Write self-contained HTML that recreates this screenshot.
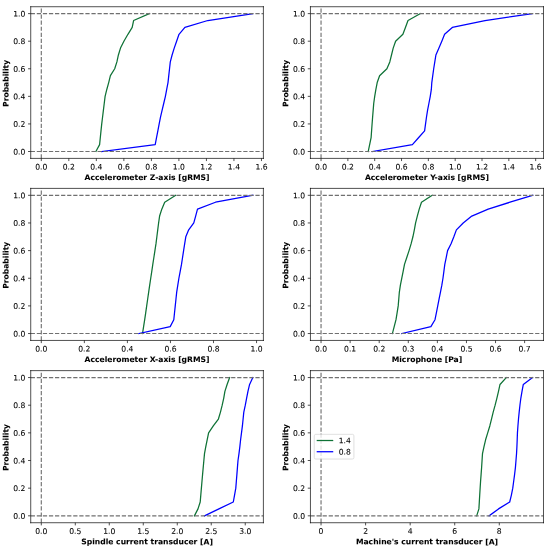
<!DOCTYPE html>
<html><head><meta charset="utf-8"><title>CDF plots</title>
<style>
html,body{margin:0;padding:0;background:#fff;width:550px;height:550px;overflow:hidden}
svg{display:block}
text{font-family:"DejaVu Sans",sans-serif;font-size:10px;fill:#000;stroke:#000;stroke-width:0.1px;}
.tm,.tb{text-anchor:middle} .te{text-anchor:end} .ts{text-anchor:start} .tb{font-weight:700}
.tk{stroke:#000;stroke-width:0.9}
.sp{fill:none;stroke:#000;stroke-width:0.9;stroke-linejoin:miter;stroke-linecap:square}
.dl{fill:none;stroke-dasharray:5.55,2.4;stroke:#707070;stroke-width:1.5}
.cg,.cb{fill:none;stroke-width:1.65;stroke-linecap:square}
.cg{stroke:#0f7236} .cb{stroke:#0000ff}
</style>
</head><body>
<svg width="550" height="550" viewBox="0 0 720 720" version="1.1">
 <defs>
  <style type="text/css">*{stroke-linejoin: round; stroke-linecap: butt}</style>
 </defs>
 <g id="figure_1">
  <g id="patch_1">
   <path d="M 0 720 L 720 720 L 720 0 L 0 0 z
" style="fill: #ffffff"/>
  </g>
  <g id="axes_1">
   <g id="patch_2">
    <path d="M 40.215 207.36 L 344.814 207.36 L 344.814 8.810 L 40.215 8.810 z
" style="fill: #ffffff"/>
   </g>
   <g id="matplotlib.axis_1">
    <g id="xtick_1">
     <g id="line2d_1">
      <g>
       <path d="M 54.061 207.360 L 54.061 210.860" class="tk"/>
      </g>
     </g>
     <g id="text_1">
      <text class="tm" x="54.060" y="221.958" transform="rotate(0.05 54.060 221.958)">0.0</text>
     </g>
    </g>
    <g id="xtick_2">
     <g id="line2d_2">
      <g>
       <path d="M 90.088 207.360 L 90.088 210.860" class="tk"/>
      </g>
     </g>
     <g id="text_2">
      <text class="tm" x="90.088" y="221.958" transform="rotate(0.05 90.088 221.958)">0.2</text>
     </g>
    </g>
    <g id="xtick_3">
     <g id="line2d_3">
      <g>
       <path d="M 126.116 207.360 L 126.116 210.860" class="tk"/>
      </g>
     </g>
     <g id="text_3">
      <text class="tm" x="126.115" y="221.958" transform="rotate(0.05 126.115 221.958)">0.4</text>
     </g>
    </g>
    <g id="xtick_4">
     <g id="line2d_4">
      <g>
       <path d="M 162.144 207.360 L 162.144 210.860" class="tk"/>
      </g>
     </g>
     <g id="text_4">
      <text class="tm" x="162.143" y="221.958" transform="rotate(0.05 162.143 221.958)">0.6</text>
     </g>
    </g>
    <g id="xtick_5">
     <g id="line2d_5">
      <g>
       <path d="M 198.171 207.360 L 198.171 210.860" class="tk"/>
      </g>
     </g>
     <g id="text_5">
      <text class="tm" x="198.171" y="221.958" transform="rotate(0.05 198.171 221.958)">0.8</text>
     </g>
    </g>
    <g id="xtick_6">
     <g id="line2d_6">
      <g>
       <path d="M 234.199 207.360 L 234.199 210.860" class="tk"/>
      </g>
     </g>
     <g id="text_6">
      <text class="tm" x="234.198" y="221.958" transform="rotate(0.05 234.198 221.958)">1.0</text>
     </g>
    </g>
    <g id="xtick_7">
     <g id="line2d_7">
      <g>
       <path d="M 270.227 207.360 L 270.227 210.860" class="tk"/>
      </g>
     </g>
     <g id="text_7">
      <text class="tm" x="270.226" y="221.958" transform="rotate(0.05 270.226 221.958)">1.2</text>
     </g>
    </g>
    <g id="xtick_8">
     <g id="line2d_8">
      <g>
       <path d="M 306.254 207.360 L 306.254 210.860" class="tk"/>
      </g>
     </g>
     <g id="text_8">
      <text class="tm" x="306.254" y="221.958" transform="rotate(0.05 306.254 221.958)">1.4</text>
     </g>
    </g>
    <g id="xtick_9">
     <g id="line2d_9">
      <g>
       <path d="M 342.282 207.360 L 342.282 210.860" class="tk"/>
      </g>
     </g>
     <g id="text_9">
      <text class="tm" x="342.281" y="221.958" transform="rotate(0.05 342.281 221.958)">1.6</text>
     </g>
    </g>
    <g id="text_10">
     <text class="tb" x="192.514" y="235.636" transform="rotate(0.05 192.514 235.636)">Accelerometer Z-axis [gRMS]</text>
    </g>
   </g>
   <g id="matplotlib.axis_2">
    <g id="ytick_1">
     <g id="line2d_10">
      <g>
       <path d="M 40.215 198.335 L 36.715 198.335" class="tk"/>
      </g>
     </g>
     <g id="text_11">
      <text class="te" x="33.215" y="202.134" transform="rotate(0.05 33.215 202.134)">0.0</text>
     </g>
    </g>
    <g id="ytick_2">
     <g id="line2d_11">
      <g>
       <path d="M 40.215 162.235 L 36.715 162.235" class="tk"/>
      </g>
     </g>
     <g id="text_12">
      <text class="te" x="33.215" y="166.034" transform="rotate(0.05 33.215 166.034)">0.2</text>
     </g>
    </g>
    <g id="ytick_3">
     <g id="line2d_12">
      <g>
       <path d="M 40.215 126.135 L 36.715 126.135" class="tk"/>
      </g>
     </g>
     <g id="text_13">
      <text class="te" x="33.215" y="129.934" transform="rotate(0.05 33.215 129.934)">0.4</text>
     </g>
    </g>
    <g id="ytick_4">
     <g id="line2d_13">
      <g>
       <path d="M 40.215 90.035 L 36.715 90.035" class="tk"/>
      </g>
     </g>
     <g id="text_14">
      <text class="te" x="33.215" y="93.834" transform="rotate(0.05 33.215 93.834)">0.6</text>
     </g>
    </g>
    <g id="ytick_5">
     <g id="line2d_14">
      <g>
       <path d="M 40.215 53.935 L 36.715 53.935" class="tk"/>
      </g>
     </g>
     <g id="text_15">
      <text class="te" x="33.215" y="57.734" transform="rotate(0.05 33.215 57.734)">0.8</text>
     </g>
    </g>
    <g id="ytick_6">
     <g id="line2d_15">
      <g>
       <path d="M 40.215 17.835 L 36.715 17.835" class="tk"/>
      </g>
     </g>
     <g id="text_16">
      <text class="te" x="33.215" y="21.634" transform="rotate(0.05 33.215 21.634)">1.0</text>
     </g>
    </g>
    <g id="text_17">
     <text class="tb" x="11.154" y="109.185" transform="rotate(-89.95 11.154 109.185)">Probability</text>
    </g>
   </g>
   <g id="line2d_16">
    <path d="M 125.541 198.335 L 130.385 189.310 L 131.297 180.285 L 132.208 171.260 L 133.172 162.235 L 134.275 153.210 L 135.379 144.185 L 136.482 135.160 L 137.585 126.135 L 139.810 117.110 L 142.291 108.085 L 144.523 99.060 L 150.152 90.035 L 153.032 81.010 L 154.996 71.985 L 157.745 62.960 L 162.210 53.935 L 167.473 44.910 L 173.061 35.885 L 174.894 26.860 L 195.447 17.835 
" clip-path="url(#p89217e5dc2)" class="cg"/>
   </g>
   <g id="line2d_17">
    <path d="M 132.872 198.335 L 203.170 189.310 L 204.905 180.285 L 206.64 171.260 L 208.374 162.235 L 210.109 153.210 L 212.247 144.185 L 214.385 135.160 L 216.523 126.135 L 218.225 117.110 L 219.927 108.085 L 220.930 99.060 L 221.934 90.035 L 222.938 81.010 L 225.288 71.985 L 228.069 62.960 L 231.198 53.935 L 234.327 44.910 L 242.050 35.885 L 272.029 26.860 L 330.545 17.835 
" clip-path="url(#p89217e5dc2)" class="cb"/>
   </g>
   <g id="line2d_18">
    <path d="M 40.215 198.335 L 344.814 198.335 
" clip-path="url(#p89217e5dc2)" class="dl"/>
   </g>
   <g id="line2d_19">
    <path d="M 40.215 17.835 L 344.814 17.835 
" clip-path="url(#p89217e5dc2)" class="dl"/>
   </g>
   <g id="line2d_20">
    <path d="M 54.060 207.36 L 54.060 8.810 
" clip-path="url(#p89217e5dc2)" class="dl"/>
   </g>
   <g id="patch_3">
    <path d="M 40.215 207.36 L 40.215 8.810 
" class="sp"/>
   </g>
   <g id="patch_4">
    <path d="M 344.814 207.36 L 344.814 8.810 
" class="sp"/>
   </g>
   <g id="patch_5">
    <path d="M 40.215 207.36 L 344.814 207.36 
" class="sp"/>
   </g>
   <g id="patch_6">
    <path d="M 40.215 8.810 L 344.814 8.810 
" class="sp"/>
   </g>
  </g>
  <g id="axes_2">
   <g id="patch_7">
    <path d="M 406.407 207.36 L 711.490 207.36 L 711.490 8.810 L 406.407 8.810 z
" style="fill: #ffffff"/>
   </g>
   <g id="matplotlib.axis_3">
    <g id="xtick_10">
     <g id="line2d_21">
      <g>
       <path d="M 420.275 207.360 L 420.275 210.860" class="tk"/>
      </g>
     </g>
     <g id="text_18">
      <text class="tm" x="420.274" y="221.958" transform="rotate(0.05 420.274 221.958)">0.0</text>
     </g>
    </g>
    <g id="xtick_11">
     <g id="line2d_22">
      <g>
       <path d="M 455.395 207.360 L 455.395 210.860" class="tk"/>
      </g>
     </g>
     <g id="text_19">
      <text class="tm" x="455.395" y="221.958" transform="rotate(0.05 455.395 221.958)">0.2</text>
     </g>
    </g>
    <g id="xtick_12">
     <g id="line2d_23">
      <g>
       <path d="M 490.516 207.360 L 490.516 210.860" class="tk"/>
      </g>
     </g>
     <g id="text_20">
      <text class="tm" x="490.516" y="221.958" transform="rotate(0.05 490.516 221.958)">0.4</text>
     </g>
    </g>
    <g id="xtick_13">
     <g id="line2d_24">
      <g>
       <path d="M 525.637 207.360 L 525.637 210.860" class="tk"/>
      </g>
     </g>
     <g id="text_21">
      <text class="tm" x="525.637" y="221.958" transform="rotate(0.05 525.637 221.958)">0.6</text>
     </g>
    </g>
    <g id="xtick_14">
     <g id="line2d_25">
      <g>
       <path d="M 560.758 207.360 L 560.758 210.860" class="tk"/>
      </g>
     </g>
     <g id="text_22">
      <text class="tm" x="560.757" y="221.958" transform="rotate(0.05 560.757 221.958)">0.8</text>
     </g>
    </g>
    <g id="xtick_15">
     <g id="line2d_26">
      <g>
       <path d="M 595.879 207.360 L 595.879 210.860" class="tk"/>
      </g>
     </g>
     <g id="text_23">
      <text class="tm" x="595.878" y="221.958" transform="rotate(0.05 595.878 221.958)">1.0</text>
     </g>
    </g>
    <g id="xtick_16">
     <g id="line2d_27">
      <g>
       <path d="M 630.999 207.360 L 630.999 210.860" class="tk"/>
      </g>
     </g>
     <g id="text_24">
      <text class="tm" x="630.999" y="221.958" transform="rotate(0.05 630.999 221.958)">1.2</text>
     </g>
    </g>
    <g id="xtick_17">
     <g id="line2d_28">
      <g>
       <path d="M 666.120 207.360 L 666.120 210.860" class="tk"/>
      </g>
     </g>
     <g id="text_25">
      <text class="tm" x="666.120" y="221.958" transform="rotate(0.05 666.120 221.958)">1.4</text>
     </g>
    </g>
    <g id="xtick_18">
     <g id="line2d_29">
      <g>
       <path d="M 701.241 207.360 L 701.241 210.860" class="tk"/>
      </g>
     </g>
     <g id="text_26">
      <text class="tm" x="701.240" y="221.958" transform="rotate(0.05 701.240 221.958)">1.6</text>
     </g>
    </g>
    <g id="text_27">
     <text class="tb" x="558.949" y="235.636" transform="rotate(0.05 558.949 235.636)">Accelerometer Y-axis [gRMS]</text>
    </g>
   </g>
   <g id="matplotlib.axis_4">
    <g id="ytick_7">
     <g id="line2d_30">
      <g>
       <path d="M 406.407 198.335 L 402.907 198.335" class="tk"/>
      </g>
     </g>
     <g id="text_28">
      <text class="te" x="399.407" y="202.134" transform="rotate(0.05 399.407 202.134)">0.0</text>
     </g>
    </g>
    <g id="ytick_8">
     <g id="line2d_31">
      <g>
       <path d="M 406.407 162.235 L 402.907 162.235" class="tk"/>
      </g>
     </g>
     <g id="text_29">
      <text class="te" x="399.407" y="166.034" transform="rotate(0.05 399.407 166.034)">0.2</text>
     </g>
    </g>
    <g id="ytick_9">
     <g id="line2d_32">
      <g>
       <path d="M 406.407 126.135 L 402.907 126.135" class="tk"/>
      </g>
     </g>
     <g id="text_30">
      <text class="te" x="399.407" y="129.934" transform="rotate(0.05 399.407 129.934)">0.4</text>
     </g>
    </g>
    <g id="ytick_10">
     <g id="line2d_33">
      <g>
       <path d="M 406.407 90.035 L 402.907 90.035" class="tk"/>
      </g>
     </g>
     <g id="text_31">
      <text class="te" x="399.407" y="93.834" transform="rotate(0.05 399.407 93.834)">0.6</text>
     </g>
    </g>
    <g id="ytick_11">
     <g id="line2d_34">
      <g>
       <path d="M 406.407 53.935 L 402.907 53.935" class="tk"/>
      </g>
     </g>
     <g id="text_32">
      <text class="te" x="399.407" y="57.734" transform="rotate(0.05 399.407 57.734)">0.8</text>
     </g>
    </g>
    <g id="ytick_12">
     <g id="line2d_35">
      <g>
       <path d="M 406.407 17.835 L 402.907 17.835" class="tk"/>
      </g>
     </g>
     <g id="text_33">
      <text class="te" x="399.407" y="21.634" transform="rotate(0.05 399.407 21.634)">1.0</text>
     </g>
    </g>
    <g id="text_34">
     <text class="tb" x="377.346" y="109.185" transform="rotate(-89.95 377.346 109.185)">Probability</text>
    </g>
   </g>
   <g id="line2d_36">
    <path d="M 482.007 198.335 L 483.905 189.310 L 485.803 180.285 L 486.447 171.260 L 487.091 162.235 L 487.787 153.210 L 488.524 144.185 L 489.261 135.160 L 490.526 126.135 L 492.071 117.110 L 493.789 108.085 L 496.930 99.060 L 506.487 90.035 L 510.283 81.010 L 512.509 71.985 L 514.734 62.960 L 517.876 53.935 L 527.432 44.910 L 530.770 35.885 L 534.109 26.860 L 550.341 17.835 
" clip-path="url(#p7cdfa403c4)" class="cg"/>
   </g>
   <g id="line2d_37">
    <path d="M 487.374 198.335 L 539.869 189.310 L 547.854 180.285 L 555.84 171.260 L 557.085 162.235 L 558.330 153.210 L 559.761 144.185 L 561.506 135.160 L 563.251 126.135 L 564.659 117.110 L 565.265 108.085 L 566.509 99.060 L 567.752 90.035 L 569.192 81.010 L 570.632 71.985 L 574.614 62.960 L 578.376 53.935 L 582.021 44.910 L 592.101 35.885 L 634.909 26.860 L 696.305 17.835 
" clip-path="url(#p7cdfa403c4)" class="cb"/>
   </g>
   <g id="line2d_38">
    <path d="M 406.407 198.335 L 711.490 198.335 
" clip-path="url(#p7cdfa403c4)" class="dl"/>
   </g>
   <g id="line2d_39">
    <path d="M 406.407 17.835 L 711.490 17.835 
" clip-path="url(#p7cdfa403c4)" class="dl"/>
   </g>
   <g id="line2d_40">
    <path d="M 420.274 207.36 L 420.274 8.810 
" clip-path="url(#p7cdfa403c4)" class="dl"/>
   </g>
   <g id="patch_8">
    <path d="M 406.407 207.36 L 406.407 8.810 
" class="sp"/>
   </g>
   <g id="patch_9">
    <path d="M 711.490 207.36 L 711.490 8.810 
" class="sp"/>
   </g>
   <g id="patch_10">
    <path d="M 406.407 207.36 L 711.490 207.36 
" class="sp"/>
   </g>
   <g id="patch_11">
    <path d="M 406.407 8.810 L 711.490 8.810 
" class="sp"/>
   </g>
  </g>
  <g id="axes_3">
   <g id="patch_12">
    <path d="M 40.215 445.68 L 344.814 445.68 L 344.814 246.632 L 40.215 246.632 z
" style="fill: #ffffff"/>
   </g>
   <g id="matplotlib.axis_5">
    <g id="xtick_19">
     <g id="line2d_41">
      <g>
       <path d="M 54.061 445.680 L 54.061 449.180" class="tk"/>
      </g>
     </g>
     <g id="text_35">
      <text class="tm" x="54.060" y="460.278" transform="rotate(0.05 54.060 460.278)">0.0</text>
     </g>
    </g>
    <g id="xtick_20">
     <g id="line2d_42">
      <g>
       <path d="M 110.417 445.680 L 110.417 449.180" class="tk"/>
      </g>
     </g>
     <g id="text_36">
      <text class="tm" x="110.417" y="460.278" transform="rotate(0.05 110.417 460.278)">0.2</text>
     </g>
    </g>
    <g id="xtick_21">
     <g id="line2d_43">
      <g>
       <path d="M 166.774 445.680 L 166.774 449.180" class="tk"/>
      </g>
     </g>
     <g id="text_37">
      <text class="tm" x="166.774" y="460.278" transform="rotate(0.05 166.774 460.278)">0.4</text>
     </g>
    </g>
    <g id="xtick_22">
     <g id="line2d_44">
      <g>
       <path d="M 223.131 445.680 L 223.131 449.180" class="tk"/>
      </g>
     </g>
     <g id="text_38">
      <text class="tm" x="223.130" y="460.278" transform="rotate(0.05 223.130 460.278)">0.6</text>
     </g>
    </g>
    <g id="xtick_23">
     <g id="line2d_45">
      <g>
       <path d="M 279.487 445.680 L 279.487 449.180" class="tk"/>
      </g>
     </g>
     <g id="text_39">
      <text class="tm" x="279.487" y="460.278" transform="rotate(0.05 279.487 460.278)">0.8</text>
     </g>
    </g>
    <g id="xtick_24">
     <g id="line2d_46">
      <g>
       <path d="M 335.844 445.680 L 335.844 449.180" class="tk"/>
      </g>
     </g>
     <g id="text_40">
      <text class="tm" x="335.843" y="460.278" transform="rotate(0.05 335.843 460.278)">1.0</text>
     </g>
    </g>
    <g id="text_41">
     <text class="tb" x="192.514" y="473.956" transform="rotate(0.05 192.514 473.956)">Accelerometer X-axis [gRMS]</text>
    </g>
   </g>
   <g id="matplotlib.axis_6">
    <g id="ytick_13">
     <g id="line2d_47">
      <g>
       <path d="M 40.215 436.632 L 36.715 436.632" class="tk"/>
      </g>
     </g>
     <g id="text_42">
      <text class="te" x="33.215" y="440.431" transform="rotate(0.05 33.215 440.431)">0.0</text>
     </g>
    </g>
    <g id="ytick_14">
     <g id="line2d_48">
      <g>
       <path d="M 40.215 400.442 L 36.715 400.442" class="tk"/>
      </g>
     </g>
     <g id="text_43">
      <text class="te" x="33.215" y="404.241" transform="rotate(0.05 33.215 404.241)">0.2</text>
     </g>
    </g>
    <g id="ytick_15">
     <g id="line2d_49">
      <g>
       <path d="M 40.215 364.252 L 36.715 364.252" class="tk"/>
      </g>
     </g>
     <g id="text_44">
      <text class="te" x="33.215" y="368.050" transform="rotate(0.05 33.215 368.050)">0.4</text>
     </g>
    </g>
    <g id="ytick_16">
     <g id="line2d_50">
      <g>
       <path d="M 40.215 328.061 L 36.715 328.061" class="tk"/>
      </g>
     </g>
     <g id="text_45">
      <text class="te" x="33.215" y="331.860" transform="rotate(0.05 33.215 331.860)">0.6</text>
     </g>
    </g>
    <g id="ytick_17">
     <g id="line2d_51">
      <g>
       <path d="M 40.215 291.871 L 36.715 291.871" class="tk"/>
      </g>
     </g>
     <g id="text_46">
      <text class="te" x="33.215" y="295.669" transform="rotate(0.05 33.215 295.669)">0.8</text>
     </g>
    </g>
    <g id="ytick_18">
     <g id="line2d_52">
      <g>
       <path d="M 40.215 255.680 L 36.715 255.680" class="tk"/>
      </g>
     </g>
     <g id="text_47">
      <text class="te" x="33.215" y="259.479" transform="rotate(0.05 33.215 259.479)">1.0</text>
     </g>
    </g>
    <g id="text_48">
     <text class="tb" x="11.154" y="347.256" transform="rotate(-89.95 11.154 347.256)">Probability</text>
    </g>
   </g>
   <g id="line2d_53">
    <path d="M 186.545 436.632 L 187.985 427.584 L 189.425 418.537 L 190.725 409.489 L 192.025 400.441 L 193.326 391.394 L 194.626 382.346 L 195.962 373.299 L 197.326 364.251 L 198.682 355.203 L 200.029 346.156 L 201.425 337.108 L 202.821 328.061 L 204.218 319.013 L 205.352 309.965 L 206.487 300.918 L 207.621 291.870 L 208.930 282.823 L 211.810 273.775 L 215.607 264.727 L 229.876 255.680 
" clip-path="url(#p0ce65dcaac)" class="cg"/>
   </g>
   <g id="line2d_54">
    <path d="M 181.832 436.632 L 222.807 427.584 L 227.52 418.537 L 228.469 409.489 L 229.418 400.441 L 230.367 391.394 L 231.316 382.346 L 232.756 373.299 L 234.196 364.251 L 235.898 355.203 L 237.6 346.156 L 238.974 337.108 L 240.349 328.061 L 241.789 319.013 L 243.229 309.965 L 247.025 300.918 L 253.701 291.870 L 256.123 282.823 L 258.545 273.775 L 282.109 264.727 L 330.938 255.680 
" clip-path="url(#p0ce65dcaac)" class="cb"/>
   </g>
   <g id="line2d_55">
    <path d="M 40.215 436.632 L 344.814 436.632 
" clip-path="url(#p0ce65dcaac)" class="dl"/>
   </g>
   <g id="line2d_56">
    <path d="M 40.215 255.680 L 344.814 255.680 
" clip-path="url(#p0ce65dcaac)" class="dl"/>
   </g>
   <g id="line2d_57">
    <path d="M 54.060 445.68 L 54.060 246.632 
" clip-path="url(#p0ce65dcaac)" class="dl"/>
   </g>
   <g id="patch_13">
    <path d="M 40.215 445.68 L 40.215 246.632 
" class="sp"/>
   </g>
   <g id="patch_14">
    <path d="M 344.814 445.68 L 344.814 246.632 
" class="sp"/>
   </g>
   <g id="patch_15">
    <path d="M 40.215 445.68 L 344.814 445.68 
" class="sp"/>
   </g>
   <g id="patch_16">
    <path d="M 40.215 246.632 L 344.814 246.632 
" class="sp"/>
   </g>
  </g>
  <g id="axes_4">
   <g id="patch_17">
    <path d="M 406.407 445.68 L 711.490 445.68 L 711.490 246.632 L 406.407 246.632 z
" style="fill: #ffffff"/>
   </g>
   <g id="matplotlib.axis_7">
    <g id="xtick_25">
     <g id="line2d_58">
      <g>
       <path d="M 420.275 445.680 L 420.275 449.180" class="tk"/>
      </g>
     </g>
     <g id="text_49">
      <text class="tm" x="420.274" y="460.278" transform="rotate(0.05 420.274 460.278)">0.0</text>
     </g>
    </g>
    <g id="xtick_26">
     <g id="line2d_59">
      <g>
       <path d="M 458.346 445.680 L 458.346 449.180" class="tk"/>
      </g>
     </g>
     <g id="text_50">
      <text class="tm" x="458.345" y="460.278" transform="rotate(0.05 458.345 460.278)">0.1</text>
     </g>
    </g>
    <g id="xtick_27">
     <g id="line2d_60">
      <g>
       <path d="M 496.417 445.680 L 496.417 449.180" class="tk"/>
      </g>
     </g>
     <g id="text_51">
      <text class="tm" x="496.417" y="460.278" transform="rotate(0.05 496.417 460.278)">0.2</text>
     </g>
    </g>
    <g id="xtick_28">
     <g id="line2d_61">
      <g>
       <path d="M 534.488 445.680 L 534.488 449.180" class="tk"/>
      </g>
     </g>
     <g id="text_52">
      <text class="tm" x="534.488" y="460.278" transform="rotate(0.05 534.488 460.278)">0.3</text>
     </g>
    </g>
    <g id="xtick_29">
     <g id="line2d_62">
      <g>
       <path d="M 572.560 445.680 L 572.560 449.180" class="tk"/>
      </g>
     </g>
     <g id="text_53">
      <text class="tm" x="572.559" y="460.278" transform="rotate(0.05 572.559 460.278)">0.4</text>
     </g>
    </g>
    <g id="xtick_30">
     <g id="line2d_63">
      <g>
       <path d="M 610.631 445.680 L 610.631 449.180" class="tk"/>
      </g>
     </g>
     <g id="text_54">
      <text class="tm" x="610.630" y="460.278" transform="rotate(0.05 610.630 460.278)">0.5</text>
     </g>
    </g>
    <g id="xtick_31">
     <g id="line2d_64">
      <g>
       <path d="M 648.702 445.680 L 648.702 449.180" class="tk"/>
      </g>
     </g>
     <g id="text_55">
      <text class="tm" x="648.701" y="460.278" transform="rotate(0.05 648.701 460.278)">0.6</text>
     </g>
    </g>
    <g id="xtick_32">
     <g id="line2d_65">
      <g>
       <path d="M 686.773 445.680 L 686.773 449.180" class="tk"/>
      </g>
     </g>
     <g id="text_56">
      <text class="tm" x="686.773" y="460.278" transform="rotate(0.05 686.773 460.278)">0.7</text>
     </g>
    </g>
    <g id="text_57">
     <text class="tb" x="558.949" y="473.956" transform="rotate(0.05 558.949 473.956)">Microphone [Pa]</text>
    </g>
   </g>
   <g id="matplotlib.axis_8">
    <g id="ytick_19">
     <g id="line2d_66">
      <g>
       <path d="M 406.407 436.632 L 402.907 436.632" class="tk"/>
      </g>
     </g>
     <g id="text_58">
      <text class="te" x="399.407" y="440.431" transform="rotate(0.05 399.407 440.431)">0.0</text>
     </g>
    </g>
    <g id="ytick_20">
     <g id="line2d_67">
      <g>
       <path d="M 406.407 400.442 L 402.907 400.442" class="tk"/>
      </g>
     </g>
     <g id="text_59">
      <text class="te" x="399.407" y="404.241" transform="rotate(0.05 399.407 404.241)">0.2</text>
     </g>
    </g>
    <g id="ytick_21">
     <g id="line2d_68">
      <g>
       <path d="M 406.407 364.252 L 402.907 364.252" class="tk"/>
      </g>
     </g>
     <g id="text_60">
      <text class="te" x="399.407" y="368.050" transform="rotate(0.05 399.407 368.050)">0.4</text>
     </g>
    </g>
    <g id="ytick_22">
     <g id="line2d_69">
      <g>
       <path d="M 406.407 328.061 L 402.907 328.061" class="tk"/>
      </g>
     </g>
     <g id="text_61">
      <text class="te" x="399.407" y="331.860" transform="rotate(0.05 399.407 331.860)">0.6</text>
     </g>
    </g>
    <g id="ytick_23">
     <g id="line2d_70">
      <g>
       <path d="M 406.407 291.871 L 402.907 291.871" class="tk"/>
      </g>
     </g>
     <g id="text_62">
      <text class="te" x="399.407" y="295.669" transform="rotate(0.05 399.407 295.669)">0.8</text>
     </g>
    </g>
    <g id="ytick_24">
     <g id="line2d_71">
      <g>
       <path d="M 406.407 255.680 L 402.907 255.680" class="tk"/>
      </g>
     </g>
     <g id="text_63">
      <text class="te" x="399.407" y="259.479" transform="rotate(0.05 399.407 259.479)">1.0</text>
     </g>
    </g>
    <g id="text_64">
     <text class="tb" x="377.346" y="347.256" transform="rotate(-89.95 377.346 347.256)">Probability</text>
    </g>
   </g>
   <g id="line2d_72">
    <path d="M 513.687 436.632 L 516.043 427.584 L 518.4 418.537 L 519.84 409.489 L 521.28 400.441 L 522.034 391.394 L 522.788 382.346 L 524.158 373.299 L 525.992 364.251 L 527.76 355.203 L 529.527 346.156 L 532.506 337.108 L 535.486 328.061 L 538.225 319.013 L 540.544 309.965 L 542.412 300.918 L 544.058 291.870 L 546.309 282.823 L 548.793 273.775 L 551.781 264.727 L 565.658 255.680 
" clip-path="url(#pc0e3571db8)" class="cg"/>
   </g>
   <g id="line2d_73">
    <path d="M 525.992 436.632 L 564.087 427.584 L 569.454 418.537 L 571.250 409.489 L 573.047 400.441 L 574.835 391.394 L 576.620 382.346 L 578.405 373.299 L 579.888 364.251 L 581.085 355.203 L 582.283 346.156 L 584.116 337.108 L 585.949 328.061 L 590.470 319.013 L 594.131 309.965 L 597.469 300.918 L 606.361 291.870 L 617.629 282.823 L 639.098 273.775 L 667.636 264.727 L 697.352 255.680 
" clip-path="url(#pc0e3571db8)" class="cb"/>
   </g>
   <g id="line2d_74">
    <path d="M 406.407 436.632 L 711.490 436.632 
" clip-path="url(#pc0e3571db8)" class="dl"/>
   </g>
   <g id="line2d_75">
    <path d="M 406.407 255.680 L 711.490 255.680 
" clip-path="url(#pc0e3571db8)" class="dl"/>
   </g>
   <g id="line2d_76">
    <path d="M 420.274 445.68 L 420.274 246.632 
" clip-path="url(#pc0e3571db8)" class="dl"/>
   </g>
   <g id="patch_18">
    <path d="M 406.407 445.68 L 406.407 246.632 
" class="sp"/>
   </g>
   <g id="patch_19">
    <path d="M 711.490 445.68 L 711.490 246.632 
" class="sp"/>
   </g>
   <g id="patch_20">
    <path d="M 406.407 445.68 L 711.490 445.68 
" class="sp"/>
   </g>
   <g id="patch_21">
    <path d="M 406.407 246.632 L 711.490 246.632 
" class="sp"/>
   </g>
  </g>
  <g id="axes_5">
   <g id="patch_22">
    <path d="M 40.215 684.301 L 344.814 684.301 L 344.814 485.201 L 40.215 485.201 z
" style="fill: #ffffff"/>
   </g>
   <g id="matplotlib.axis_9">
    <g id="xtick_33">
     <g id="line2d_77">
      <g>
       <path d="M 54.061 684.301 L 54.061 687.801" class="tk"/>
      </g>
     </g>
     <g id="text_65">
      <text class="tm" x="54.060" y="698.899" transform="rotate(0.05 54.060 698.899)">0.0</text>
     </g>
    </g>
    <g id="xtick_34">
     <g id="line2d_78">
      <g>
       <path d="M 98.557 684.301 L 98.557 687.801" class="tk"/>
      </g>
     </g>
     <g id="text_66">
      <text class="tm" x="98.556" y="698.899" transform="rotate(0.05 98.556 698.899)">0.5</text>
     </g>
    </g>
    <g id="xtick_35">
     <g id="line2d_79">
      <g>
       <path d="M 143.053 684.301 L 143.053 687.801" class="tk"/>
      </g>
     </g>
     <g id="text_67">
      <text class="tm" x="143.052" y="698.899" transform="rotate(0.05 143.052 698.899)">1.0</text>
     </g>
    </g>
    <g id="xtick_36">
     <g id="line2d_80">
      <g>
       <path d="M 187.549 684.301 L 187.549 687.801" class="tk"/>
      </g>
     </g>
     <g id="text_68">
      <text class="tm" x="187.549" y="698.899" transform="rotate(0.05 187.549 698.899)">1.5</text>
     </g>
    </g>
    <g id="xtick_37">
     <g id="line2d_81">
      <g>
       <path d="M 232.045 684.301 L 232.045 687.801" class="tk"/>
      </g>
     </g>
     <g id="text_69">
      <text class="tm" x="232.045" y="698.899" transform="rotate(0.05 232.045 698.899)">2.0</text>
     </g>
    </g>
    <g id="xtick_38">
     <g id="line2d_82">
      <g>
       <path d="M 276.541 684.301 L 276.541 687.801" class="tk"/>
      </g>
     </g>
     <g id="text_70">
      <text class="tm" x="276.541" y="698.899" transform="rotate(0.05 276.541 698.899)">2.5</text>
     </g>
    </g>
    <g id="xtick_39">
     <g id="line2d_83">
      <g>
       <path d="M 321.038 684.301 L 321.038 687.801" class="tk"/>
      </g>
     </g>
     <g id="text_71">
      <text class="tm" x="321.037" y="698.899" transform="rotate(0.05 321.037 698.899)">3.0</text>
     </g>
    </g>
    <g id="text_72">
     <text class="tb" x="192.514" y="712.577" transform="rotate(0.05 192.514 712.577)">Spindle current transducer [A]</text>
    </g>
   </g>
   <g id="matplotlib.axis_10">
    <g id="ytick_25">
     <g id="line2d_84">
      <g>
       <path d="M 40.215 675.251 L 36.715 675.251" class="tk"/>
      </g>
     </g>
     <g id="text_73">
      <text class="te" x="33.215" y="679.050" transform="rotate(0.05 33.215 679.050)">0.0</text>
     </g>
    </g>
    <g id="ytick_26">
     <g id="line2d_85">
      <g>
       <path d="M 40.215 639.051 L 36.715 639.051" class="tk"/>
      </g>
     </g>
     <g id="text_74">
      <text class="te" x="33.215" y="642.850" transform="rotate(0.05 33.215 642.850)">0.2</text>
     </g>
    </g>
    <g id="ytick_27">
     <g id="line2d_86">
      <g>
       <path d="M 40.215 602.851 L 36.715 602.851" class="tk"/>
      </g>
     </g>
     <g id="text_75">
      <text class="te" x="33.215" y="606.650" transform="rotate(0.05 33.215 606.650)">0.4</text>
     </g>
    </g>
    <g id="ytick_28">
     <g id="line2d_87">
      <g>
       <path d="M 40.215 566.651 L 36.715 566.651" class="tk"/>
      </g>
     </g>
     <g id="text_76">
      <text class="te" x="33.215" y="570.450" transform="rotate(0.05 33.215 570.450)">0.6</text>
     </g>
    </g>
    <g id="ytick_29">
     <g id="line2d_88">
      <g>
       <path d="M 40.215 530.451 L 36.715 530.451" class="tk"/>
      </g>
     </g>
     <g id="text_77">
      <text class="te" x="33.215" y="534.250" transform="rotate(0.05 33.215 534.250)">0.8</text>
     </g>
    </g>
    <g id="ytick_30">
     <g id="line2d_89">
      <g>
       <path d="M 40.215 494.251 L 36.715 494.251" class="tk"/>
      </g>
     </g>
     <g id="text_78">
      <text class="te" x="33.215" y="498.050" transform="rotate(0.05 33.215 498.050)">1.0</text>
     </g>
    </g>
    <g id="text_79">
     <text class="tb" x="11.154" y="585.851" transform="rotate(-89.95 11.154 585.851)">Probability</text>
    </g>
   </g>
   <g id="line2d_90">
    <path d="M 254.487 675.251 L 259.2 666.201 L 262.08 657.151 L 262.857 648.101 L 263.635 639.051 L 264.413 630.001 L 265.208 620.951 L 266.041 611.901 L 266.875 602.851 L 267.709 593.801 L 269.406 584.751 L 271.208 575.701 L 273.076 566.651 L 279.229 557.601 L 285.905 548.551 L 288.601 539.501 L 290.870 530.451 L 292.843 521.401 L 294.414 512.351 L 297.294 503.301 L 300.567 494.251 
" clip-path="url(#pfa1a89f95b)" class="cg"/>
   </g>
   <g id="line2d_91">
    <path d="M 267.709 675.251 L 286.56 666.201 L 305.410 657.151 L 307.047 648.101 L 308.683 639.051 L 309.403 630.001 L 310.123 620.951 L 310.843 611.901 L 311.563 602.851 L 312.855 593.801 L 313.994 584.751 L 314.967 575.701 L 316.145 566.651 L 317.323 557.601 L 318.24 548.551 L 319.156 539.501 L 321.12 530.451 L 322.792 521.401 L 324.598 512.351 L 326.749 503.301 L 330.938 494.251 
" clip-path="url(#pfa1a89f95b)" class="cb"/>
   </g>
   <g id="line2d_92">
    <path d="M 40.215 675.251 L 344.814 675.251 
" clip-path="url(#pfa1a89f95b)" class="dl"/>
   </g>
   <g id="line2d_93">
    <path d="M 40.215 494.251 L 344.814 494.251 
" clip-path="url(#pfa1a89f95b)" class="dl"/>
   </g>
   <g id="line2d_94">
    <path d="M 54.060 684.301 L 54.060 485.201 
" clip-path="url(#pfa1a89f95b)" class="dl"/>
   </g>
   <g id="patch_23">
    <path d="M 40.215 684.301 L 40.215 485.201 
" class="sp"/>
   </g>
   <g id="patch_24">
    <path d="M 344.814 684.301 L 344.814 485.201 
" class="sp"/>
   </g>
   <g id="patch_25">
    <path d="M 40.215 684.301 L 344.814 684.301 
" class="sp"/>
   </g>
   <g id="patch_26">
    <path d="M 40.215 485.201 L 344.814 485.201 
" class="sp"/>
   </g>
  </g>
  <g id="axes_6">
   <g id="patch_27">
    <path d="M 406.407 684.301 L 711.490 684.301 L 711.490 485.201 L 406.407 485.201 z
" style="fill: #ffffff"/>
   </g>
   <g id="matplotlib.axis_11">
    <g id="xtick_40">
     <g id="line2d_95">
      <g>
       <path d="M 420.275 684.301 L 420.275 687.801" class="tk"/>
      </g>
     </g>
     <g id="text_80">
      <text class="tm" x="420.274" y="698.899" transform="rotate(0.05 420.274 698.899)">0</text>
     </g>
    </g>
    <g id="xtick_41">
     <g id="line2d_96">
      <g>
       <path d="M 478.609 684.301 L 478.609 687.801" class="tk"/>
      </g>
     </g>
     <g id="text_81">
      <text class="tm" x="478.608" y="698.899" transform="rotate(0.05 478.608 698.899)">2</text>
     </g>
    </g>
    <g id="xtick_42">
     <g id="line2d_97">
      <g>
       <path d="M 536.943 684.301 L 536.943 687.801" class="tk"/>
      </g>
     </g>
     <g id="text_82">
      <text class="tm" x="536.942" y="698.899" transform="rotate(0.05 536.942 698.899)">4</text>
     </g>
    </g>
    <g id="xtick_43">
     <g id="line2d_98">
      <g>
       <path d="M 595.277 684.301 L 595.277 687.801" class="tk"/>
      </g>
     </g>
     <g id="text_83">
      <text class="tm" x="595.276" y="698.899" transform="rotate(0.05 595.276 698.899)">6</text>
     </g>
    </g>
    <g id="xtick_44">
     <g id="line2d_99">
      <g>
       <path d="M 653.611 684.301 L 653.611 687.801" class="tk"/>
      </g>
     </g>
     <g id="text_84">
      <text class="tm" x="653.610" y="698.899" transform="rotate(0.05 653.610 698.899)">8</text>
     </g>
    </g>
    <g id="text_85">
     <text class="tb" x="558.949" y="712.577" transform="rotate(0.05 558.949 712.577)">Machine's current transducer [A]</text>
    </g>
   </g>
   <g id="matplotlib.axis_12">
    <g id="ytick_31">
     <g id="line2d_100">
      <g>
       <path d="M 406.407 675.251 L 402.907 675.251" class="tk"/>
      </g>
     </g>
     <g id="text_86">
      <text class="te" x="399.407" y="679.050" transform="rotate(0.05 399.407 679.050)">0.0</text>
     </g>
    </g>
    <g id="ytick_32">
     <g id="line2d_101">
      <g>
       <path d="M 406.407 639.051 L 402.907 639.051" class="tk"/>
      </g>
     </g>
     <g id="text_87">
      <text class="te" x="399.407" y="642.850" transform="rotate(0.05 399.407 642.850)">0.2</text>
     </g>
    </g>
    <g id="ytick_33">
     <g id="line2d_102">
      <g>
       <path d="M 406.407 602.851 L 402.907 602.851" class="tk"/>
      </g>
     </g>
     <g id="text_88">
      <text class="te" x="399.407" y="606.650" transform="rotate(0.05 399.407 606.650)">0.4</text>
     </g>
    </g>
    <g id="ytick_34">
     <g id="line2d_103">
      <g>
       <path d="M 406.407 566.651 L 402.907 566.651" class="tk"/>
      </g>
     </g>
     <g id="text_89">
      <text class="te" x="399.407" y="570.450" transform="rotate(0.05 399.407 570.450)">0.6</text>
     </g>
    </g>
    <g id="ytick_35">
     <g id="line2d_104">
      <g>
       <path d="M 406.407 530.451 L 402.907 530.451" class="tk"/>
      </g>
     </g>
     <g id="text_90">
      <text class="te" x="399.407" y="534.250" transform="rotate(0.05 399.407 534.250)">0.8</text>
     </g>
    </g>
    <g id="ytick_36">
     <g id="line2d_105">
      <g>
       <path d="M 406.407 494.251 L 402.907 494.251" class="tk"/>
      </g>
     </g>
     <g id="text_91">
      <text class="te" x="399.407" y="498.050" transform="rotate(0.05 399.407 498.050)">1.0</text>
     </g>
    </g>
    <g id="text_92">
     <text class="tb" x="377.346" y="585.851" transform="rotate(-89.95 377.346 585.851)">Probability</text>
    </g>
   </g>
   <g id="line2d_106">
    <path d="M 624.043 675.251 L 626.923 666.201 L 627.460 657.151 L 627.996 648.101 L 628.533 639.051 L 629.120 630.001 L 629.807 620.951 L 630.468 611.901 L 631.052 602.851 L 631.636 593.801 L 633.6 584.751 L 635.694 575.701 L 638.443 566.651 L 641.192 557.601 L 643.418 548.551 L 645.643 539.501 L 648.165 530.451 L 650.417 521.401 L 652.581 512.351 L 654.545 503.301 L 662.792 494.251 
" clip-path="url(#pf6e7cb693f)" class="cg"/>
   </g>
   <g id="line2d_107">
    <path d="M 640.276 675.251 L 652.581 666.201 L 667.243 657.151 L 669.447 648.101 L 671.254 639.051 L 672.458 630.001 L 673.662 620.951 L 674.749 611.901 L 675.473 602.851 L 676.197 593.801 L 676.679 584.751 L 677.061 575.701 L 677.374 566.651 L 678.013 557.601 L 678.763 548.551 L 679.650 539.501 L 680.643 530.451 L 681.813 521.401 L 683.351 512.351 L 685.047 503.301 L 696.96 494.251 
" clip-path="url(#pf6e7cb693f)" class="cb"/>
   </g>
   <g id="line2d_108">
    <path d="M 406.407 675.251 L 711.490 675.251 
" clip-path="url(#pf6e7cb693f)" class="dl"/>
   </g>
   <g id="line2d_109">
    <path d="M 406.407 494.251 L 711.490 494.251 
" clip-path="url(#pf6e7cb693f)" class="dl"/>
   </g>
   <g id="line2d_110">
    <path d="M 420.274 684.301 L 420.274 485.201 
" clip-path="url(#pf6e7cb693f)" class="dl"/>
   </g>
   <g id="patch_28">
    <path d="M 406.407 684.301 L 406.407 485.201 
" class="sp"/>
   </g>
   <g id="patch_29">
    <path d="M 711.490 684.301 L 711.490 485.201 
" class="sp"/>
   </g>
   <g id="patch_30">
    <path d="M 406.407 684.301 L 711.490 684.301 
" class="sp"/>
   </g>
   <g id="patch_31">
    <path d="M 406.407 485.201 L 711.490 485.201 
" class="sp"/>
   </g>
   <g id="legend_1">
    <g id="patch_32">
     <path d="M 413.407 600.929 L 461.310 600.929 
Q 463.310 600.929 463.310 598.929 L 463.310 570.573 
Q 463.310 568.573 461.310 568.573 L 413.407 568.573 
Q 411.407 568.573 411.407 570.573 L 411.407 598.929 
Q 411.407 600.929 413.407 600.929 z
" style="fill: #ffffff; opacity: 0.8; stroke: #cccccc; stroke-linejoin: miter"/>
    </g>
    <g id="line2d_111">
     <path d="M 415.407 576.671 L 425.407 576.671 L 435.407 576.671 
" class="cg"/>
    </g>
    <g id="text_93">
     <text class="ts" x="443.407" y="580.171" transform="rotate(0.05 443.407 580.171)">1.4</text>
    </g>
    <g id="line2d_112">
     <path d="M 415.407 591.349 L 425.407 591.349 L 435.407 591.349 
" class="cb"/>
    </g>
    <g id="text_94">
     <text class="ts" x="443.407" y="594.849" transform="rotate(0.05 443.407 594.849)">0.8</text>
    </g>
   </g>
  </g>
 </g>
 <defs>
  <clipPath id="p89217e5dc2">
   <rect x="40.215" y="8.810" width="304.599" height="198.549"/>
  </clipPath>
  <clipPath id="p7cdfa403c4">
   <rect x="406.407" y="8.810" width="305.083" height="198.549"/>
  </clipPath>
  <clipPath id="p0ce65dcaac">
   <rect x="40.215" y="246.632" width="304.599" height="199.047"/>
  </clipPath>
  <clipPath id="pc0e3571db8">
   <rect x="406.407" y="246.632" width="305.083" height="199.047"/>
  </clipPath>
  <clipPath id="pfa1a89f95b">
   <rect x="40.215" y="485.201" width="304.599" height="199.099"/>
  </clipPath>
  <clipPath id="pf6e7cb693f">
   <rect x="406.407" y="485.201" width="305.083" height="199.099"/>
  </clipPath>
 </defs>
</svg>

</body></html>
